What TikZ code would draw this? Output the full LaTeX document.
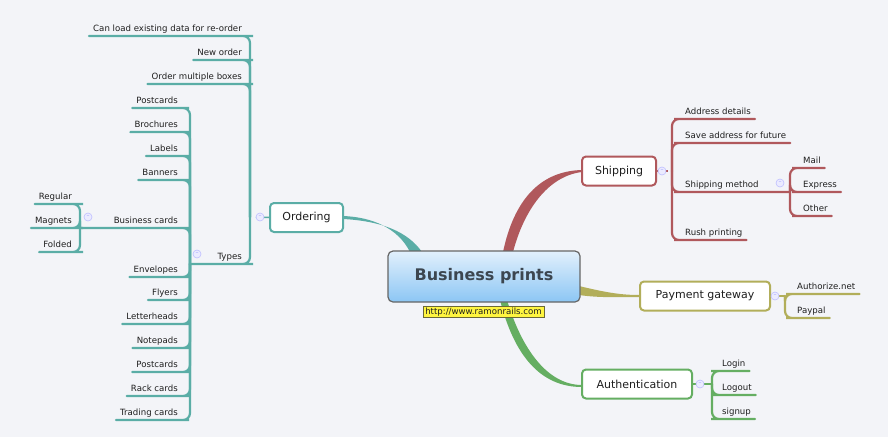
\documentclass[tikz,border=0pt]{standalone}
\usepackage{fontspec}
\setmainfont{DejaVu Sans}
\definecolor{bg}{HTML}{F3F4F8}
\definecolor{teal}{HTML}{5AADA6}
\definecolor{red}{HTML}{B0585C}
\definecolor{olive}{HTML}{B2AE5A}
\definecolor{grn}{HTML}{65AE62}
\definecolor{txt}{HTML}{1E1E1E}
\definecolor{ttl}{HTML}{3C4650}
\definecolor{ctop}{HTML}{E2F0FC}
\definecolor{cbot}{HTML}{8CC6F4}
\newcommand\rleaf[7]{%
  \node[leaf,anchor=south west] (#1) at (#4,#5) {#6};
  \draw[branch,#7] (#2,#3) |- (#1.south west) -- (#1.south east);}
\newcommand\lleaf[7]{%
  \node[leaf,anchor=south east] (#1) at (#4,#5) {#6};
  \draw[branch,#7] (#2,#3) |- (#1.south east) -- (#1.south west);}
\begin{document}
\begin{tikzpicture}[x=1pt,y=-1pt,
  leaf/.style={font=\fontsize{8.6}{10}\selectfont, text=txt, inner xsep=4pt, inner ysep=4pt, text depth=0pt},
  branch/.style={line width=2.2pt, rounded corners=7pt, line cap=round},
  topic/.style={draw, line width=2pt, fill=white, rounded corners=4pt, font=\fontsize{11}{13}\selectfont, text=txt, minimum height=29pt, inner xsep=7pt},
  coll/.style={circle, draw=blue!25, fill=blue!8, line width=0.6pt, minimum size=8pt, inner sep=0pt, font=\fontsize{6}{6}\selectfont, text=blue!40}]
\fill[bg] (0,0) rectangle (888,437);
\useasboundingbox (0,0) rectangle (888,437);
% main connectors
\fill[teal] (410,252) .. controls (398,228) and (372,217) .. (343,216) -- (343,219) .. controls (382,221) and (408,232) .. (422,252) -- cycle;
\fill[red] (503,252) .. controls (514,200) and (540,171) .. (582,170) -- (582,172) .. controls (548,176) and (524,210) .. (513,252) -- cycle;
\fill[olive] (579,286) .. controls (608,293) and (622,295) .. (640,295) -- (640,297) .. controls (618,297) and (600,298) .. (579,295) -- cycle;
\fill[grn] (507,300) .. controls (522,350) and (548,385) .. (582,385) -- (582,387) .. controls (540,387) and (514,355) .. (500,300) -- cycle;
% central
\node[draw=gray!80!black, line width=1.2pt, rounded corners=5pt, top color=ctop, bottom color=cbot, minimum width=192pt, minimum height=51pt, font=\fontsize{16}{19}\selectfont\bfseries, text=ttl] (c) at (484,276.5) {Business prints};
\node[draw=olive!60!black, line width=0.4pt, fill=yellow!75, inner xsep=2pt, inner ysep=1.5pt, font=\fontsize{8.6}{10}\selectfont, text=txt] (url) at (483.5,312) {http://www.ramonrails.com};
% topics
\node[topic, draw=teal, minimum width=73pt] (ord) at (306.5,217.5) {Ordering};
\node[topic, draw=red, minimum width=74pt] (ship) at (619,171) {Shipping};
\node[topic, draw=olive, minimum width=130pt] (pay) at (705,296) {Payment gateway};
\node[topic, draw=grn, minimum width=110pt] (auth) at (637,384) {Authentication};
% Ordering
\draw[teal, line width=1.5pt] (ord.west) -- (256,217);
\lleaf{o1}{250}{217}{246}{36}{Can load existing data for re-order}{teal}
\lleaf{o2}{250}{217}{246}{60}{New order}{teal}
\lleaf{o3}{250}{217}{246}{84}{Order multiple boxes}{teal}
\node[leaf,anchor=south east] (types) at (246,264) {Types};
\draw[branch,teal] (250,217) |- (types.south east) -- (190,264);
\coordinate (tt) at (190,264);
\foreach \n/\y/\t in {t1/108/Postcards,t2/132/Brochures,t3/156/Labels,t4/180/Banners,t6/277/Envelopes,t7/300/Flyers,t8/324/Letterheads,t9/348/Notepads,t10/372/Postcards,t11/396/Rack cards,t12/420/Trading cards}{
  \lleaf{\n}{190}{264}{182}{\y}{\t}{teal}}
\node[leaf,anchor=south east] (bc) at (182,228) {Business cards};
\draw[branch,teal] (tt) |- (bc.south east) -- (80,228);
\lleaf{b1}{80}{228}{76}{204}{Regular}{teal}
\lleaf{b2}{80}{228}{76}{228}{Magnets}{teal}
\lleaf{b3}{80}{228}{76}{252}{Folded}{teal}
% Shipping
\draw[red, line width=1.5pt] (ship.east) -- (668,171);
\rleaf{s1}{672}{171}{681}{119}{Address details}{red}
\rleaf{s2}{672}{171}{681}{143}{Save address for future}{red}
\node[leaf,anchor=south west] (s3) at (681,192) {Shipping method};
\draw[branch,red] (672,171) |- (s3.south west) -- (790,192);
\rleaf{s4}{672}{171}{681}{240}{Rush printing}{red}
\rleaf{m1}{790}{192}{799}{168}{Mail}{red}
\rleaf{m2}{790}{192}{799}{192}{Express}{red}
\rleaf{m3}{790}{192}{799}{216}{Other}{red}
% Payment
\draw[olive, line width=1.5pt] (pay.east) -- (785,296);
\rleaf{p1}{785}{296}{793}{294}{Authorize.net}{olive}
\rleaf{p2}{785}{296}{793}{318}{Paypal}{olive}
% Auth
\draw[grn, line width=1.5pt] (auth.east) -- (712,384);
\rleaf{a1}{712}{384}{718}{371}{Login}{grn}
\rleaf{a2}{712}{384}{718}{395}{Logout}{grn}
\rleaf{a3}{712}{384}{718}{419}{signup}{grn}
% collapse markers
\foreach \n/\x/\y in {c1/88/217,c2/197/254,c3/260/217,c4/662/171,c5/780/183,c6/775/296,c7/700/384}{
  \node[coll] (\n) at (\x,\y) {--};}
\end{tikzpicture}
\end{document}
